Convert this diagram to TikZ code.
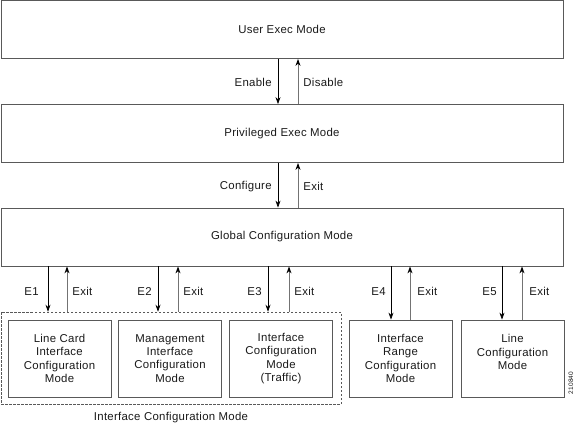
\documentclass[tikz,border=0pt]{standalone}
\usepackage{fontspec}
\setmainfont{Liberation Sans}[LetterSpace=2.5]
\usetikzlibrary{arrows.meta}
\begin{document}
\begin{tikzpicture}[x=1pt,y=-1pt,
  every node/.style={font=\fontsize{11.4}{13.2}\selectfont, text=black!90},
  wide/.style={draw=black!65, line width=0.8pt, minimum width=562pt, minimum height=58pt, inner sep=0pt},
  mode/.style={draw=black!65, line width=0.8pt, minimum width=103pt, minimum height=77pt, inner sep=0pt, align=center},
  group/.style={draw=black!65, line width=0.6pt, dash pattern=on 2.5pt off 1.5pt, minimum width=340pt, minimum height=92pt, inner sep=0pt},
  dn/.style={draw=black, line width=0.7pt, -{Stealth[length=7pt,width=5pt]}},
  upar/.style={draw=black!55, line width=0.9pt, -{Stealth[length=7pt,width=5pt,color=black]}},
  lbl/.style={inner sep=0pt}
]
\useasboundingbox (0,0) rectangle (578,426);
\node[wide] (user) at (282,29.5) {User Exec Mode};
\node[wide] (priv) at (282,133.5) {Privileged Exec Mode};
\node[wide] (glob) at (282,237) {Global Configuration Mode};

\draw[dn] ([xshift=-4pt]user.south) -- ([xshift=-4pt]user.south |- priv.north) node[lbl, pos=0.52, left=6pt] {Enable};
\draw[upar] ([xshift=16pt]user.south |- priv.north) -- ([xshift=16pt]user.south) node[lbl, pos=0.48, right=5pt] {Disable};
\draw[dn] ([xshift=-4pt]priv.south) -- ([xshift=-4pt]priv.south |- glob.north) node[lbl, pos=0.52, left=6pt] {Configure};
\draw[upar] ([xshift=16pt]priv.south |- glob.north) -- ([xshift=16pt]priv.south) node[lbl, pos=0.48, right=5pt] {Exit};

\node[group] (grp) at (171,358) {};
\node[lbl, anchor=base] (grplbl) at (171,420) {Interface Configuration Mode};

\node[mode] (m1) at (59.5,358.5) {Line Card\\Interface\\Configuration\\Mode};
\node[mode] (m2) at (170,358.5) {Management\\Interface\\Configuration\\Mode};
\node[mode] (m3) at (281,358.5) {Interface\\Configuration\\Mode\\(Traffic)};
\node[mode] (m4) at (400.5,358.5) {Interface\\Range\\Configuration\\Mode};
\node[mode] (m5) at (512.5,358.5) {Line\\Configuration\\Mode\\\mbox{}};

% E1-E3 into dashed group
\draw[dn] ([xshift=-11.5pt]m1.north |- glob.south) -- ([xshift=-11.5pt]m1.north |- grp.north) node[lbl, pos=0.55, left=9pt] {E1};
\draw[upar] ([xshift=7.5pt]m1.north |- grp.north) -- ([xshift=7.5pt]m1.north |- glob.south) node[lbl, pos=0.45, right=5pt] {Exit};
\draw[dn] ([xshift=-12pt]m2.north |- glob.south) -- ([xshift=-12pt]m2.north |- grp.north) node[lbl, pos=0.55, left=6pt] {E2};
\draw[upar] ([xshift=8pt]m2.north |- grp.north) -- ([xshift=8pt]m2.north |- glob.south) node[lbl, pos=0.45, right=5pt] {Exit};
\draw[dn] ([xshift=-13pt]m3.north |- glob.south) -- ([xshift=-13pt]m3.north |- grp.north) node[lbl, pos=0.55, left=6pt] {E3};
\draw[upar] ([xshift=8pt]m3.north |- grp.north) -- ([xshift=8pt]m3.north |- glob.south) node[lbl, pos=0.45, right=5pt] {Exit};
% E4, E5
\draw[dn] ([xshift=-9.5pt]m4.north |- glob.south) -- ([xshift=-9.5pt]m4.north) node[lbl, pos=0.47, left=5pt] {E4};
\draw[upar] ([xshift=9.5pt]m4.north) -- ([xshift=9.5pt]m4.north |- glob.south) node[lbl, pos=0.53, right=7pt] {Exit};
\draw[dn] ([xshift=-10.5pt]m5.north |- glob.south) -- ([xshift=-10.5pt]m5.north) node[lbl, pos=0.47, left=5pt] {E5};
\draw[upar] ([xshift=9.5pt]m5.north) -- ([xshift=9.5pt]m5.north |- glob.south) node[lbl, pos=0.53, right=7pt] {Exit};

\node[lbl, rotate=90, font=\fontsize{6.5}{7}\selectfont] (code) at (571,383) {210840};
\end{tikzpicture}
\end{document}
